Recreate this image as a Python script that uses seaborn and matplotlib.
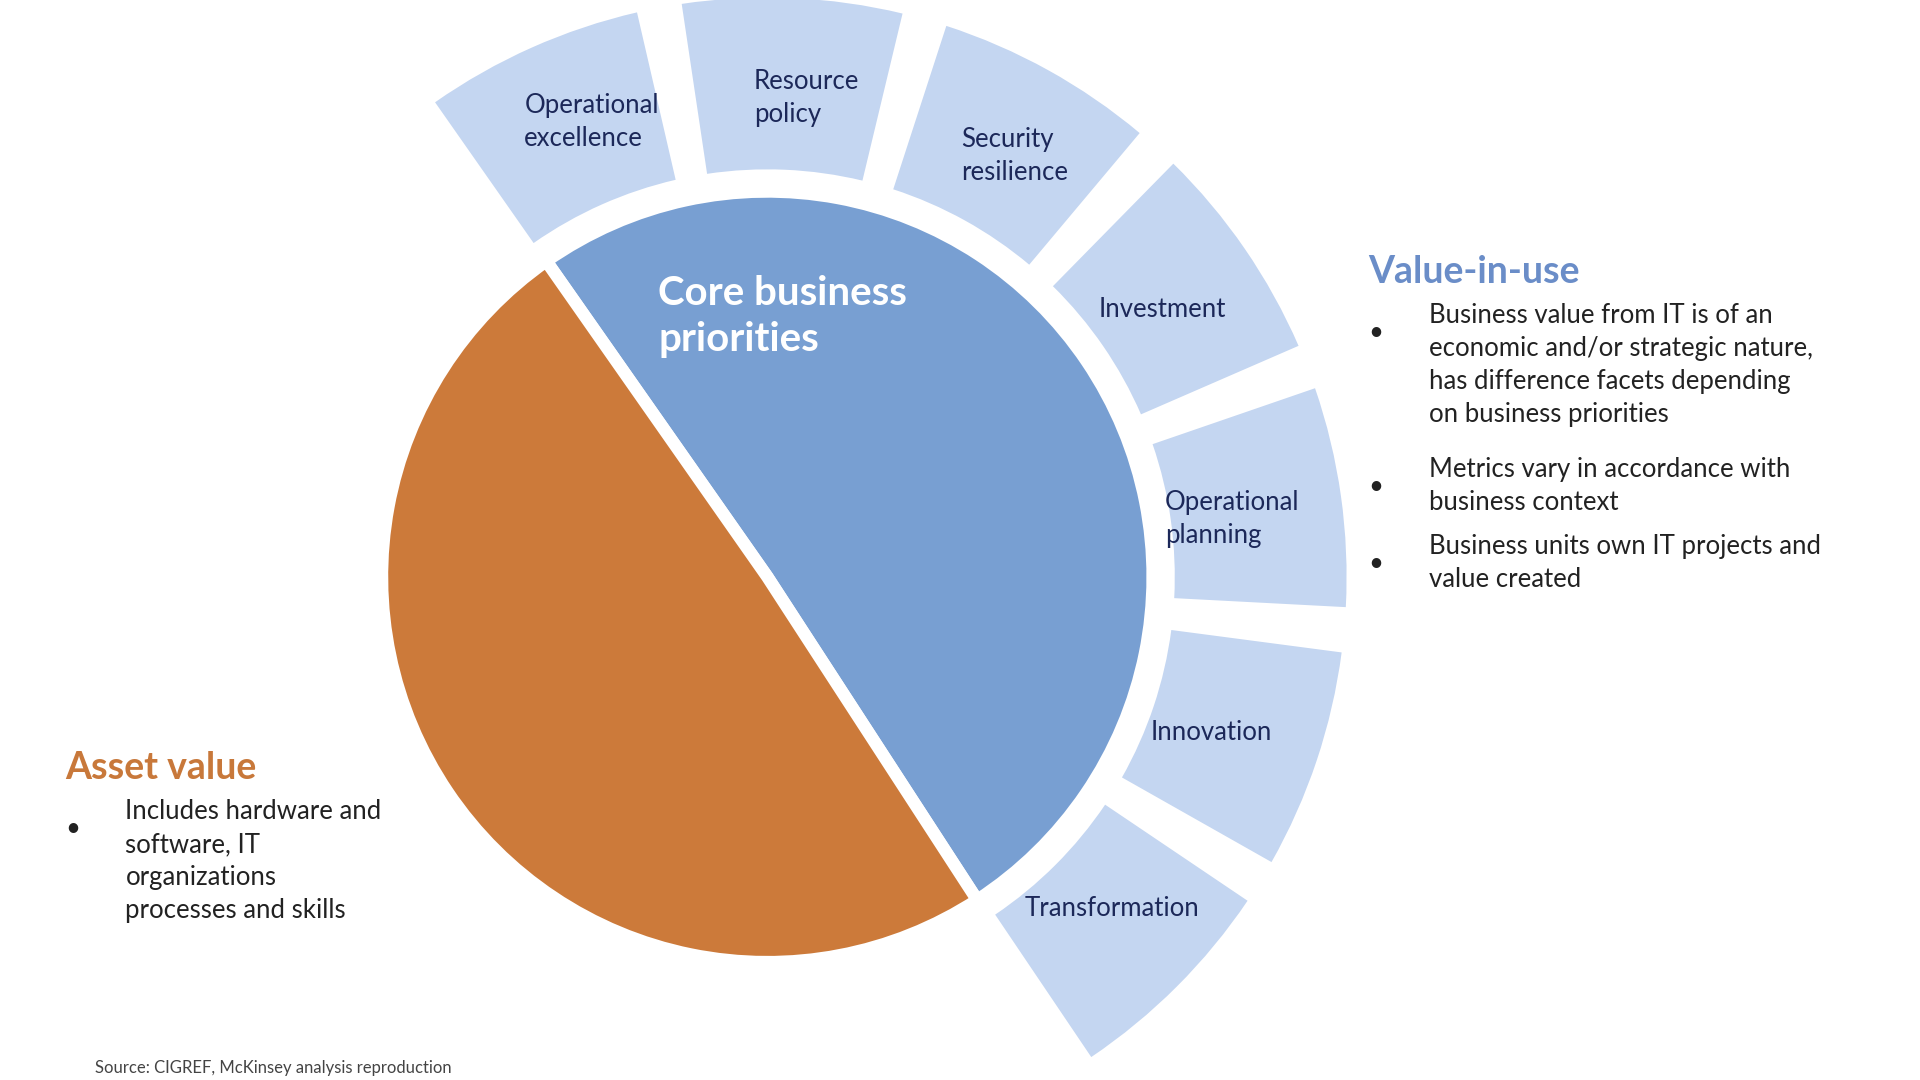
import matplotlib
matplotlib.use("Agg")
import matplotlib.pyplot as plt
import seaborn as sns

sns.set_theme(style="white")
plt.rcParams['font.family'] = ['Lato', 'DejaVu Sans']

# ---- data ----
core_labels = ["Core business priorities", "Asset value"]
core_values = [182, 178]          # angular share (degrees)
ring_labels = ["Transformation", "Innovation", "Operational\nplanning", "Investment",
               "Security\nresilience", "Resource\npolicy", "Operational\nexcellence"]
ring_segment = 22                  # degrees per facet
ring_gap = 4.5
value_bullets = ["Business value from IT is of an\neconomic and/or strategic nature,\nhas difference facets depending\non business priorities",
                 "Metrics vary in accordance with\nbusiness context",
                 "Business units own IT projects and\nvalue created"]
asset_bullets = ["Includes hardware and\nsoftware, IT\norganizations\nprocesses and skills"]
source = "Source: CIGREF, McKinsey analysis reproduction"

BLUE = "#789fd2"
ORANGE = "#cc7a3a"
LIGHT = "#c4d6f1"
NAVY = "#1c2859"

fig = plt.figure(figsize=(19.2, 10.8), dpi=100)
ax = fig.add_axes([0, 0, 1, 1])
ax.set_xlim(0, 1560)
ax.set_ylim(0, 880)
ax.axis("off")

H = 880
cx, cy = 623, H - 470

ax.pie(core_values, colors=[BLUE, ORANGE], startangle=-57, counterclock=True,
       center=(cx, cy), radius=314,
       wedgeprops=dict(edgecolor="white", linewidth=9), frame=True)

ring_vals, ring_cols = [], []
for i in range(len(ring_labels)):
    ring_vals.append(ring_segment); ring_cols.append(LIGHT)
    if i < len(ring_labels) - 1:
        ring_vals.append(ring_gap); ring_cols.append("none")
ring_vals.append(360 - sum(ring_vals)); ring_cols.append("none")
ax.pie(ring_vals, colors=ring_cols, startangle=-56, counterclock=True,
       center=(cx, cy), radius=472, wedgeprops=dict(width=140, edgecolor="none"),
       frame=True)
ax.set_xlim(0, 1560); ax.set_ylim(0, 880); ax.axis("off")

label_pos = [(833, 740), (935, 597), (947, 423), (893, 252),
             (781, 127), (612, 80), (425, 99)]
for lab, (x, y) in zip(ring_labels, label_pos):
    ax.text(x, H - y, lab, ha="left", va="center", fontsize=18.5, color=NAVY,
            linespacing=1.4)

ax.text(534, H - 258, "Core business\npriorities", ha="left", va="center",
        fontsize=29, color="white", fontweight="bold", linespacing=1.3)

ax.text(1113, H - 222, "Value-in-use", ha="left", va="center", fontsize=27,
        color="#6a8dc8", fontweight="bold")
ys = [261, 386, 449]
for b, y in zip(value_bullets, ys):
    ax.text(1113, H - y, "•", ha="left", va="top", fontsize=18.5, color="#222222")
    ax.text(1162, H - y + 14, b, ha="left", va="top", fontsize=18.5, color="#222222",
            linespacing=1.4)

ax.text(51, H - 626, "Asset value", ha="left", va="center", fontsize=27,
        color="#c8783a", fontweight="bold")
ax.text(51, H - 665, "•", ha="left", va="top", fontsize=18.5, color="#222222")
ax.text(100, H - 665 + 14, asset_bullets[0], ha="left", va="top", fontsize=18.5,
        color="#222222", linespacing=1.4)

ax.text(75, H - 870, source, ha="left", va="center", fontsize=12, color="#444444")

fig.savefig("out.png", dpi=100, facecolor="white")
